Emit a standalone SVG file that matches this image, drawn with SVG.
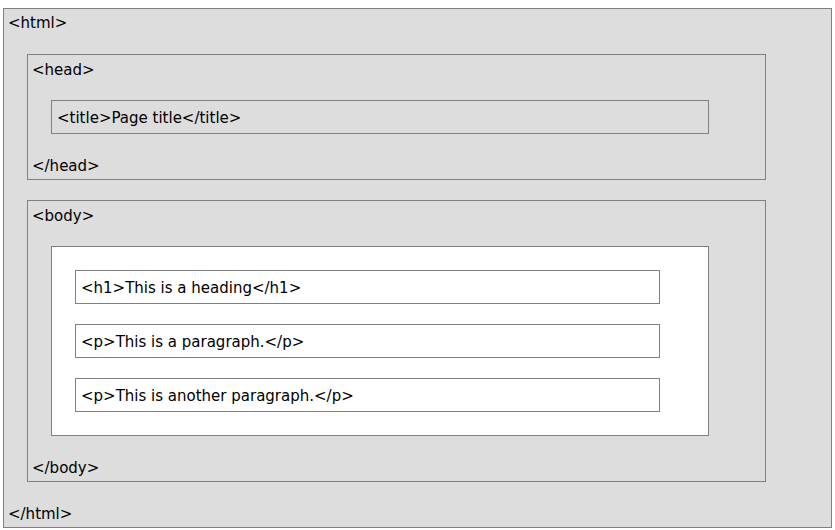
<svg xmlns="http://www.w3.org/2000/svg" width="835" height="530" viewBox="0 0 835 530">
<style>
.g{fill:#dddddd;stroke:#808080;stroke-width:1}
.w{fill:#ffffff;stroke:#808080;stroke-width:1}
text{font-family:"DejaVu Sans",Verdana,sans-serif;font-size:15px;fill:#000}
</style>
<rect width="835" height="530" fill="#ffffff"/>
<g id="html">
<rect class="g" x="3.5" y="8.5" width="828" height="519"/>
<text x="8" y="28">&lt;html&gt;</text>
<text x="8" y="519">&lt;/html&gt;</text>
</g>
<g id="head">
<rect class="g" x="27.5" y="54.5" width="738" height="125"/>
<text x="32" y="75">&lt;head&gt;</text>
<text x="32" y="171">&lt;/head&gt;</text>
</g>
<g id="title">
<rect class="g" x="51.5" y="100.5" width="657" height="33"/>
<text x="57" y="123">&lt;title&gt;Page title&lt;/title&gt;</text>
</g>
<g id="body">
<rect class="g" x="27.5" y="200.5" width="738" height="281"/>
<text x="32" y="221">&lt;body&gt;</text>
<text x="32" y="473">&lt;/body&gt;</text>
</g>
<g id="content">
<rect class="w" x="51.5" y="246.5" width="657" height="189"/>
</g>
<g id="h1">
<rect class="w" x="75.5" y="270.5" width="584" height="33"/>
<text x="81" y="293">&lt;h1&gt;This is a heading&lt;/h1&gt;</text>
</g>
<g id="p1">
<rect class="w" x="75.5" y="324.5" width="584" height="33"/>
<text x="81" y="347">&lt;p&gt;This is a paragraph.&lt;/p&gt;</text>
</g>
<g id="p2">
<rect class="w" x="75.5" y="378.5" width="584" height="33"/>
<text x="81" y="401">&lt;p&gt;This is another paragraph.&lt;/p&gt;</text>
</g>
<g id="connectors"/>
</svg>
